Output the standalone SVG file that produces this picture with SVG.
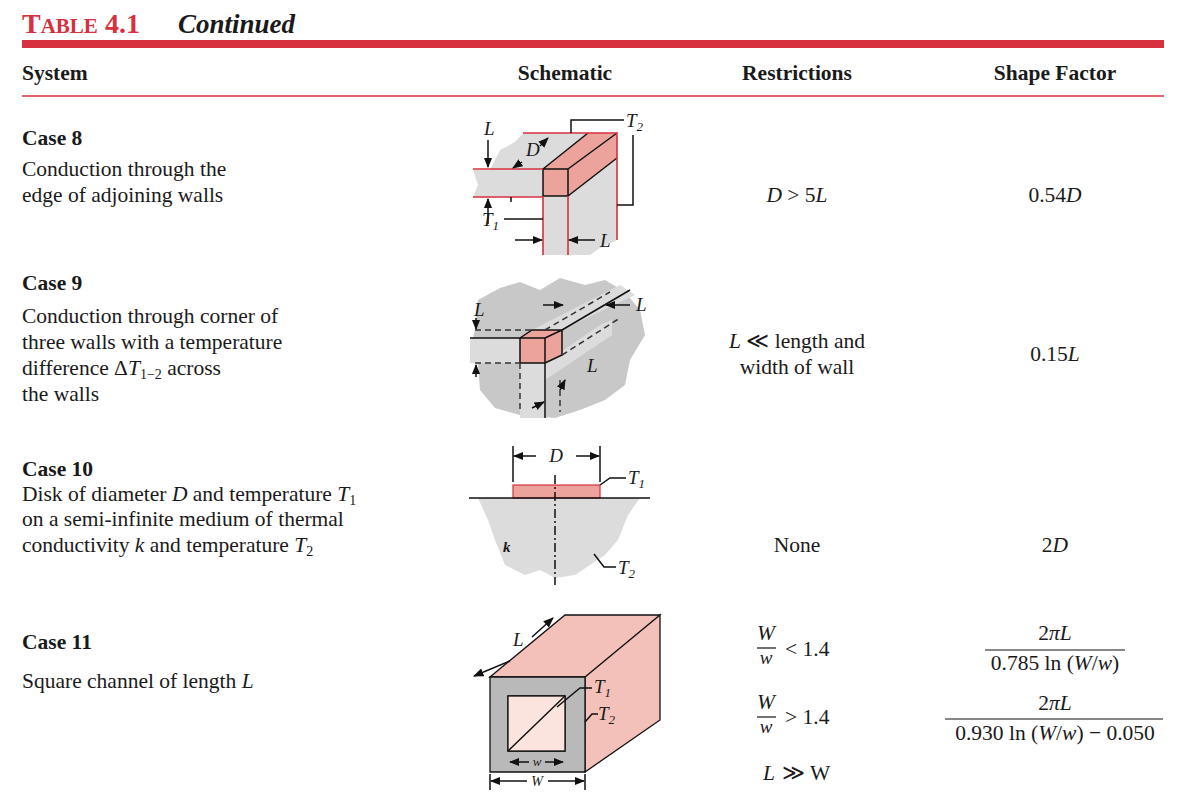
<svg xmlns="http://www.w3.org/2000/svg" width="1187" height="796" viewBox="0 0 1187 796">
<style>
text{font-family:"Liberation Serif","DejaVu Serif",serif;fill:#1a1a1a;font-size:21.5px}
.b{font-weight:bold}
.i{font-style:italic}
.c{text-anchor:middle}
.s{font-size:19px}
.r{stroke:#d7303f;stroke-width:1.6;fill:none}
.k{stroke:#111;stroke-width:1.5;fill:none}
.d{stroke:#333;stroke-width:1.5;fill:none;stroke-dasharray:6 4}
.g{fill:#dcdcdc}
.g2{fill:#c8c8c8}
.p{fill:#eba39c}
.p2{fill:#f3c1b9}
</style>
<defs>
<marker id="a" viewBox="0 0 10 10" refX="9" refY="5" markerWidth="7" markerHeight="7" orient="auto-start-reverse"><path d="M0 1L10 5L0 9z" fill="#111"/></marker>
</defs>
<rect width="1187" height="796" fill="#fff"/>
<text x="22" y="33" style="fill:#d7303f;font-size:28px;font-weight:bold">T<tspan font-size="21">ABLE</tspan> 4.1</text>
<text x="178" y="33" class="b i" style="font-size:27px">Continued</text>
<rect x="22" y="40" width="1142" height="8" fill="#d7303f"/>
<text x="22" y="80" class="b">System</text>
<text x="565" y="80" class="b c">Schematic</text>
<text x="797" y="80" class="b c">Restrictions</text>
<text x="1055" y="80" class="b c">Shape Factor</text>
<line x1="22" y1="96" x2="1164" y2="96" stroke="#d7303f" stroke-width="1.5"/>

<g id="case8-text">
<text x="22" y="145" class="b">Case 8</text>
<text x="22" y="176">Conduction through the</text>
<text x="22" y="202">edge of adjoining walls</text>
<text x="797" y="202" class="c"><tspan class="i">D</tspan> &gt; 5<tspan class="i">L</tspan></text>
<text x="1055" y="202" class="c">0.54<tspan class="i">D</tspan></text>
</g>
<g id="case8-schematic">
<path class="g" d="M490 170 L500 150 L515 142 L523 133 L617 133 L617 240 L600 248 L590 255 L543 255 L543 197 L473 197 L478 185 L473 170z"/>
<path class="p" d="M543 169 L588 133 L617 133 L568 169z M568 169 L617 133 L617 158 L568 196z M543 169 H568 V196 H543z"/>
<path class="k" d="M543 169 H568 V196 H543z M543 169 L588 133 M568 169 L617 133 M568 196 L617 158"/>
<path class="r" d="M473 169 H543 M473 197 H543 M523 133 H617 V240 M543 196 V255 M568 196 V255"/>
<line class="k" x1="488" y1="140" x2="488" y2="167" marker-end="url(#a)"/>
<line class="k" x1="488" y1="224" x2="488" y2="199" marker-end="url(#a)"/>
<text x="484" y="135" class="i s">L</text>
<text x="526" y="156" class="i s">D</text>
<line class="k" x1="540" y1="146" x2="548" y2="138" marker-end="url(#a)"/>
<line class="k" x1="522" y1="162" x2="513" y2="168" marker-end="url(#a)"/>
<path class="k" d="M571 133 V120 H624"/>
<text x="626" y="127" class="i s">T<tspan font-size="13" dy="4">2</tspan></text>
<path class="k" d="M617 205 H633 V135"/>
<path class="k" d="M511 197 V202"/>
<text x="482" y="226" class="i s">T<tspan font-size="13" dy="4">1</tspan></text>
<path class="k" d="M504 219 H543"/>
<line class="k" x1="515" y1="240" x2="542" y2="240" marker-end="url(#a)"/>
<line class="k" x1="595" y1="240" x2="569" y2="240" marker-end="url(#a)"/>
<text x="600" y="247" class="i s">L</text>
</g>

<g id="case9-text">
<text x="22" y="290" class="b">Case 9</text>
<text x="22" y="323">Conduction through corner of</text>
<text x="22" y="349">three walls with a temperature</text>
<text x="22" y="375">difference Δ<tspan class="i">T</tspan><tspan font-size="14" dy="4">1−2</tspan><tspan dy="-4"> across</tspan></text>
<text x="22" y="401">the walls</text>
<text x="797" y="348" class="c"><tspan class="i">L</tspan> ≪ length and</text>
<text x="797" y="374" class="c">width of wall</text>
<text x="1055" y="361" class="c">0.15<tspan class="i">L</tspan></text>
</g>
<g id="case9-schematic">
<path class="g2" d="M478 300 L500 288 L520 282 L540 290 L560 278 L585 285 L605 280 L625 292 L640 310 L645 335 L630 360 L625 385 L605 400 L580 410 L555 418 L520 415 L495 408 L480 390 L478 365 L470 350 L475 330z"/>
<path class="g" d="M470 338 H520 V363 H470z M520 363 H545 V418 H520z M545 363 L600 325 L612 320 L612 335 L545 380z M532 330 L620 285 L635 295 L562 330z"/>
<path class="p" d="M520 338 L532 330 H562 L545 338z M545 338 L562 330 V355 L545 363z M520 338 H545 V363 H520z"/>
<path class="k" d="M520 338 H545 V363 H520z M520 338 L532 330 H562 L545 338 M562 330 V355 L545 363 M470 338 H520 M545 363 V418 M562 330 L630 290"/>
<path class="d" d="M475 330 H532 M475 363 H520 M520 363 V412 M562 355 L620 318 M560 380 V412 M545 330 L610 292"/>
<line class="k" x1="476" y1="318" x2="476" y2="329" marker-end="url(#a)"/>
<line class="k" x1="476" y1="377" x2="476" y2="365" marker-end="url(#a)"/>
<text x="474" y="316" class="i s">L</text>
<line class="k" x1="543" y1="305" x2="563" y2="305" marker-end="url(#a)"/>
<line class="k" x1="630" y1="305" x2="606" y2="305" marker-end="url(#a)"/>
<text x="636" y="311" class="i s">L</text>
<line class="k" x1="560" y1="390" x2="565" y2="380" marker-end="url(#a)"/>
<line class="k" x1="532" y1="408" x2="544" y2="402" marker-end="url(#a)"/>
<text x="587" y="372" class="i s">L</text>
</g>

<g id="case10-text">
<text x="22" y="476" class="b">Case 10</text>
<text x="22" y="501">Disk of diameter <tspan class="i">D</tspan> and temperature <tspan class="i">T</tspan><tspan font-size="14" dy="4">1</tspan></text>
<text x="22" y="526">on a semi-infinite medium of thermal</text>
<text x="22" y="552">conductivity <tspan class="i">k</tspan> and temperature <tspan class="i">T</tspan><tspan font-size="14" dy="4">2</tspan></text>
<text x="797" y="552" class="c">None</text>
<text x="1055" y="552" class="c">2<tspan class="i">D</tspan></text>
</g>
<g id="case10-schematic">
<path class="g" d="M478 498 H640 L628 515 L618 540 L605 555 L590 565 L575 575 L555 578 L540 570 L525 575 L505 565 L495 540 L488 520z"/>
<rect x="513" y="485" width="87" height="13" fill="#eba39c" stroke="#d7303f" stroke-width="1.2"/>
<line class="k" x1="469" y1="498" x2="650" y2="498"/>
<path class="k" d="M555 475 V585" stroke-dasharray="9 3 2 3" stroke-width="1.2"/>
<path class="k" d="M513 446 V482 M600 446 V482" stroke-width="1.2"/>
<line class="k" x1="536" y1="456" x2="514" y2="456" marker-end="url(#a)"/>
<line class="k" x1="576" y1="456" x2="599" y2="456" marker-end="url(#a)"/>
<text x="556" y="462" class="i s c">D</text>
<path class="k" d="M600 485 L610 478 H626" stroke-width="1.2"/>
<text x="628" y="484" class="i s">T<tspan font-size="13" dy="4">1</tspan></text>
<text x="503" y="552" class="i b" style="font-size:15px">k</text>
<path class="k" d="M594 554 L604 567 H616" stroke-width="1.2"/>
<text x="618" y="574" class="i s">T<tspan font-size="13" dy="4">2</tspan></text>
</g>

<g id="case11-text">
<text x="22" y="649" class="b">Case 11</text>
<text x="22" y="688">Square channel of length <tspan class="i">L</tspan></text>
<text x="766" y="640" class="c i">W</text>
<line x1="757" y1="648" x2="776" y2="648" stroke="#111" stroke-width="1.2"/>
<text x="766" y="664" class="c i s">w</text>
<text x="785" y="656">&lt; 1.4</text>
<text x="766" y="709" class="c i">W</text>
<line x1="757" y1="717" x2="776" y2="717" stroke="#111" stroke-width="1.2"/>
<text x="766" y="733" class="c i s">w</text>
<text x="785" y="724">&gt; 1.4</text>
<text x="763" y="780" class="i">L</text><text x="782" y="780">≫ W</text>
<text x="1055" y="640" class="c">2<tspan class="i">πL</tspan></text>
<line x1="985" y1="650" x2="1125" y2="650" stroke="#111" stroke-width="1.2"/>
<text x="1055" y="670" class="c">0.785 ln (<tspan class="i">W</tspan>/<tspan class="i">w</tspan>)</text>
<text x="1055" y="710" class="c">2<tspan class="i">πL</tspan></text>
<line x1="945" y1="719" x2="1163" y2="719" stroke="#111" stroke-width="1.2"/>
<text x="1055" y="740" class="c">0.930 ln (<tspan class="i">W</tspan>/<tspan class="i">w</tspan>) − 0.050</text>
</g>
<g id="case11-schematic">
<path class="p2" d="M490 677 L565 615 H660 L585 677z M585 677 L660 615 V720 L585 772z" stroke="#111" stroke-width="1.3"/>
<path d="M490 677 H585 V772 H490z M508 696 V751 H565 V696z" fill="#b9b9b9" fill-rule="evenodd" stroke="#111" stroke-width="1.3"/>
<rect x="508" y="696" width="57" height="55" fill="#fbe3de" stroke="#111" stroke-width="1.3"/>
<line class="k" x1="508" y1="751" x2="565" y2="696" stroke-width="1.2"/>
<line class="k" x1="510" y1="661" x2="474" y2="676" marker-end="url(#a)" stroke-width="1.2"/>
<line class="k" x1="532" y1="637" x2="553" y2="618" marker-end="url(#a)" stroke-width="1.2"/>
<text x="513" y="646" class="i s">L</text>
<path class="k" d="M557 707 L580 688 H592" stroke-width="1.2"/>
<text x="594" y="693" class="i s">T<tspan font-size="13" dy="4">1</tspan></text>
<path class="k" d="M585 722 L592 714 H598" stroke-width="1.2"/>
<text x="598" y="720" class="i s">T<tspan font-size="13" dy="4">2</tspan></text>
<line class="k" x1="529" y1="762" x2="510" y2="762" marker-end="url(#a)" stroke-width="1.2"/>
<line class="k" x1="545" y1="762" x2="563" y2="762" marker-end="url(#a)" stroke-width="1.2"/>
<text x="537" y="766" class="i c" style="font-size:13px">w</text>
<path class="k" d="M490 774 V790 M585 774 V790" stroke-width="1.2"/>
<line class="k" x1="527" y1="781" x2="491" y2="781" marker-end="url(#a)" stroke-width="1.2"/>
<line class="k" x1="548" y1="781" x2="584" y2="781" marker-end="url(#a)" stroke-width="1.2"/>
<text x="537" y="786" class="i c" style="font-size:14px">W</text>
</g>
</svg>
